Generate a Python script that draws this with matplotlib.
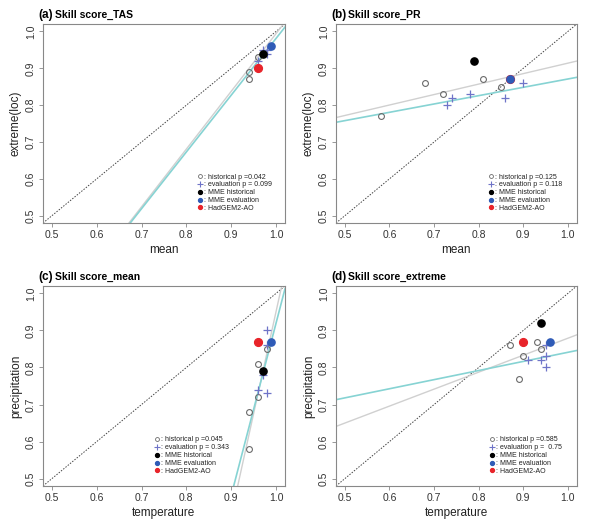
import matplotlib
matplotlib.use('Agg')
import matplotlib.pyplot as plt
from matplotlib.lines import Line2D

plt.rcParams['font.family'] = ['Liberation Sans', 'DejaVu Sans']

# ---------------- data ----------------
titles = ['Skill score_TAS', 'Skill score_PR', 'Skill score_mean', 'Skill score_extreme']
panel_tags = ['(a)', '(b)', '(c)', '(d)']
xlabels = ['mean', 'mean', 'temperature', 'temperature']
ylabels = ['extreme(loc)', 'extreme(loc)', 'precipitation', 'precipitation']

# historical models (hollow circles)
hist_x = [[0.94, 0.94, 0.96, 0.97],
          [0.58, 0.68, 0.72, 0.81, 0.85],
          [0.94, 0.94, 0.96, 0.96, 0.98],
          [0.87, 0.89, 0.90, 0.93, 0.94]]
hist_y = [[0.87, 0.89, 0.93, 0.94],
          [0.77, 0.86, 0.83, 0.87, 0.85],
          [0.58, 0.68, 0.72, 0.81, 0.85],
          [0.86, 0.77, 0.83, 0.87, 0.85]]

# evaluation models (crosses)
eval_x = [[0.96, 0.97, 0.98, 0.98],
          [0.73, 0.74, 0.78, 0.86, 0.90],
          [0.96, 0.97, 0.98, 0.98, 0.98],
          [0.91, 0.94, 0.95, 0.95, 0.95]]
eval_y = [[0.92, 0.95, 0.94, 0.95],
          [0.80, 0.82, 0.83, 0.82, 0.86],
          [0.74, 0.78, 0.73, 0.86, 0.90],
          [0.82, 0.82, 0.83, 0.80, 0.86]]

mme_hist = [(0.97, 0.94), (0.79, 0.92), (0.97, 0.79), (0.94, 0.92)]
mme_eval = [(0.99, 0.96), (0.87, 0.87), (0.99, 0.87), (0.96, 0.87)]
hadgem = [(0.96, 0.90), (0.87, 0.87), (0.96, 0.87), (0.90, 0.87)]

# fitted lines (intercept, slope) as they appear in the figure
hist_fit = [(-0.572, 1.566), (0.630, 0.284), (-4.55, 5.5), (0.421, 0.458)]
eval_fit = [(-0.559, 1.54), (0.645, 0.226), (-3.731, 4.65), (0.595, 0.246)]

hist_p = ['0.042', '0.125', '0.045', '0.585']
eval_p = [' 0.099', ' 0.118', ' 0.343', '  0.75']

ticks = [0.5, 0.6, 0.7, 0.8, 0.9, 1.0]
tick_labels = ['0.5', '0.6', '0.7', '0.8', '0.9', '1.0']

# ---------------- plotting ----------------
fig = plt.figure(figsize=(5.93, 5.29), dpi=100)
boxes = [[0.0725, 0.5784, 0.408, 0.376],
         [0.5666, 0.5784, 0.406, 0.376],
         [0.0725, 0.0813, 0.408, 0.378],
         [0.5666, 0.0813, 0.406, 0.378]]
legend_right = [0.965, 0.955, 0.785, 0.955]

frame_col = '#888888'
cross_col = '#6f74c8'
circ_col = '#6a6a6a'

for i in range(4):
    ax = fig.add_axes(boxes[i])
    ax.set_xlim(0.48, 1.02)
    ax.set_ylim(0.48, 1.02)

    ax.axline((0.5, 0.5), slope=1, color='#444444', lw=0.7, ls=(0, (1.5, 1.5)))
    b0, b1 = hist_fit[i]
    ax.axline((0, b0), slope=b1, color='#d0d0d0', lw=1.0)
    b0, b1 = eval_fit[i]
    ax.axline((0, b0), slope=b1, color='#86d3d3', lw=1.2)

    ax.plot(hist_x[i], hist_y[i], 'o', mfc='none', mec=circ_col, ms=4.2, mew=0.8)
    ax.plot(eval_x[i], eval_y[i], '+', color=cross_col, ms=6, mew=0.9)
    ax.plot(*mme_hist[i], 'o', color='black', ms=5.2)
    ax.plot(*hadgem[i], 'o', color='#e8242a', ms=5.6)
    ax.plot(*mme_eval[i], 'o', color='#2f5bb7', ms=5.2)

    ax.set_xticks(ticks)
    ax.set_yticks(ticks)
    ax.set_xticklabels(tick_labels)
    ax.set_yticklabels(tick_labels, rotation=90, va='center')
    ax.tick_params(labelsize=7.5, length=3, width=0.6, colors='#333333',
                   color=frame_col, pad=2)
    for s in ax.spines.values():
        s.set_color(frame_col)
        s.set_linewidth(0.8)
    ax.set_xlabel(xlabels[i], fontsize=8.5, color='#222222', labelpad=3)
    ax.set_ylabel(ylabels[i], fontsize=8.5, color='#222222', labelpad=3)

    ax.text(-0.02, 1.03, panel_tags[i], transform=ax.transAxes,
            fontsize=8.5, fontweight='bold', ha='left', va='baseline')
    ax.text(0.05, 1.03, titles[i], transform=ax.transAxes,
            fontsize=7.5, fontweight='bold', ha='left', va='baseline')

    handles = [
        Line2D([], [], ls='none', marker='o', mfc='none', mec=circ_col, ms=2.8, mew=0.6),
        Line2D([], [], ls='none', marker='+', color=cross_col, ms=4.5, mew=0.8),
        Line2D([], [], ls='none', marker='o', color='black', ms=2.8),
        Line2D([], [], ls='none', marker='o', color='#2f5bb7', ms=2.8),
        Line2D([], [], ls='none', marker='o', color='#e8242a', ms=2.8),
    ]
    labels = [': historical p =' + hist_p[i],
              ': evaluation p =' + eval_p[i],
              ': MME historical', ': MME evaluation', ': HadGEM2-AO']
    leg = ax.legend(handles, labels, loc='lower right',
                    bbox_to_anchor=(legend_right[i], 0.035),
                    frameon=False, fontsize=5, handlelength=0.8,
                    handletextpad=0.15, labelspacing=0.12, borderpad=0.1)
    for t in leg.get_texts():
        t.set_color('#222222')

fig.savefig('out.png', dpi=100)
